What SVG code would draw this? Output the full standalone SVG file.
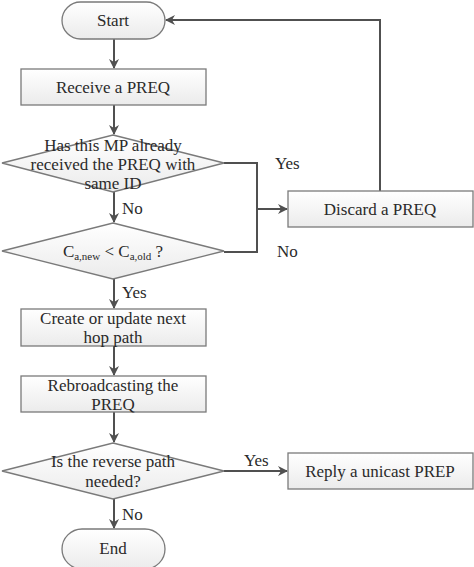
<svg xmlns="http://www.w3.org/2000/svg" width="474" height="567" viewBox="0 0 474 567">
<defs>
<linearGradient id="g" x1="0" y1="0" x2="0" y2="1">
<stop offset="0" stop-color="#ffffff"/>
<stop offset="1" stop-color="#ebebeb"/>
</linearGradient>
<marker id="ah" markerWidth="10" markerHeight="10" refX="9" refY="5" orient="auto" markerUnits="userSpaceOnUse">
<path d="M0,0 L10,5 L0,10 L3,5 Z" fill="#505050"/>
</marker>
</defs>
<style>
.s{fill:url(#g);stroke:#7a7a7a;stroke-width:1.3}
.t{font-family:"Liberation Serif","Times New Roman",serif;font-size:17px;fill:#2a2a2a;text-anchor:middle}
.l{font-family:"Liberation Serif","Times New Roman",serif;font-size:17px;fill:#2a2a2a}
.c{fill:none;stroke:#505050;stroke-width:2}
</style>
<rect width="474" height="567" fill="#fff"/>
<g id="connectors">
<line class="c" x1="114" y1="39" x2="114" y2="68" marker-end="url(#ah)"/>
<line class="c" x1="114" y1="105" x2="114" y2="134" marker-end="url(#ah)"/>
<line class="c" x1="114" y1="192" x2="114" y2="222" marker-end="url(#ah)"/>
<polyline class="c" points="224,163 257,163 257,252 224,252"/>
<line class="c" x1="257" y1="209" x2="287" y2="209" marker-end="url(#ah)"/>
<polyline class="c" points="380,191 380,20 166,20" marker-end="url(#ah)"/>
<line class="c" x1="114" y1="279" x2="114" y2="308" marker-end="url(#ah)"/>
<line class="c" x1="114" y1="346" x2="114" y2="375" marker-end="url(#ah)"/>
<line class="c" x1="114" y1="412" x2="114" y2="442" marker-end="url(#ah)"/>
<line class="c" x1="224" y1="471" x2="287" y2="471" marker-end="url(#ah)"/>
<line class="c" x1="114" y1="499" x2="114" y2="528" marker-end="url(#ah)"/>
<text class="l" x="275" y="169">Yes</text>
<text class="l" x="277" y="257">No</text>
<text class="l" x="122" y="214">No</text>
<text class="l" x="122" y="298">Yes</text>
<text class="l" x="244" y="466">Yes</text>
<text class="l" x="122" y="520">No</text>
</g>
<g id="start">
<rect class="s" x="62" y="2" width="103" height="37" rx="18.5"/>
<text class="t" x="113" y="26">Start</text>
</g>
<g id="receive">
<rect class="s" x="21" y="69" width="185" height="36"/>
<text class="t" x="113" y="93">Receive a PREQ</text>
</g>
<g id="check-id">
<polygon class="s" points="113,135 224,163 113,192 2,163"/>
<text class="t" x="113" y="151">Has this MP already</text>
<text class="t" x="113" y="170">received the PREQ with</text>
<text class="t" x="113" y="189">same ID</text>
</g>
<g id="check-cost">
<polygon class="s" points="113,223 224,251 113,279 2,251"/>
<text class="t" x="113" y="257">C<tspan font-size="11" dy="3">a,new</tspan><tspan dy="-3"> &lt; C</tspan><tspan font-size="11" dy="3">a,old</tspan><tspan dy="-3"> ?</tspan></text>
</g>
<g id="discard">
<rect class="s" x="288" y="191" width="185" height="36"/>
<text class="t" x="380" y="215">Discard a PREQ</text>
</g>
<g id="create">
<rect class="s" x="21" y="309" width="185" height="37"/>
<text class="t" x="113" y="324">Create or update next</text>
<text class="t" x="113" y="343">hop path</text>
</g>
<g id="rebroadcast">
<rect class="s" x="21" y="376" width="185" height="36"/>
<text class="t" x="113" y="391">Rebroadcasting the</text>
<text class="t" x="113" y="410">PREQ</text>
</g>
<g id="check-reverse">
<polygon class="s" points="113,443 224,471 113,499 2,471"/>
<text class="t" x="113" y="467">Is the reverse path</text>
<text class="t" x="113" y="487">needed?</text>
</g>
<g id="reply">
<rect class="s" x="288" y="453" width="185" height="36"/>
<text class="t" x="380" y="477">Reply a unicast PREP</text>
</g>
<g id="end">
<rect class="s" x="62" y="529" width="103" height="40" rx="20"/>
<text class="t" x="113" y="554">End</text>
</g>
</svg>
